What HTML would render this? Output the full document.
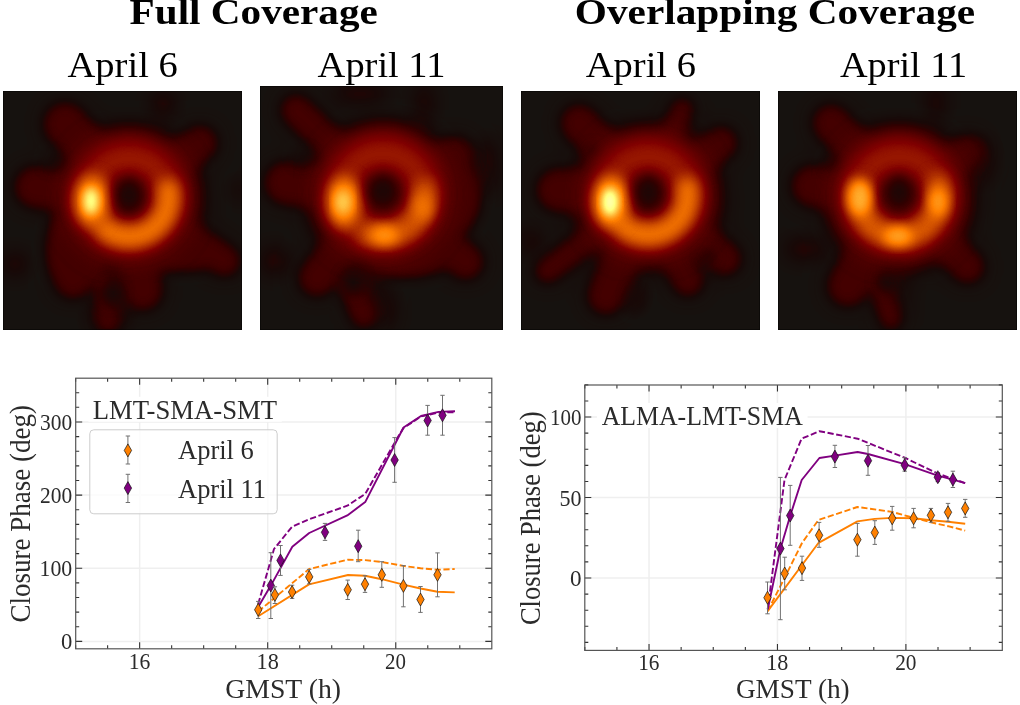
<!DOCTYPE html>
<html><head><meta charset="utf-8"><style>
html,body{margin:0;padding:0;background:#fff;overflow:hidden;}
svg{display:block;font-family:"Liberation Serif",serif;will-change:transform;}
</style></head><body>
<svg width="1020" height="705" viewBox="0 0 1020 705">
<defs>
<filter id="cmap" x="0" y="0" width="1" height="1" color-interpolation-filters="sRGB">
<feComponentTransfer><feFuncR type="table" tableValues="0.090 0.095 0.200 0.300 0.400 0.500 0.600 0.700 0.800 0.900 1.000 1.000 1.000 1.000 1.000 1.000 1.000 1.000 1.000 1.000 1.000"/><feFuncG type="table" tableValues="0.071 0.035 0.000 0.000 0.000 0.000 0.100 0.200 0.300 0.400 0.500 0.600 0.700 0.800 0.900 1.000 1.000 1.000 1.000 1.000 1.000"/><feFuncB type="table" tableValues="0.059 0.029 0.000 0.000 0.000 0.000 0.000 0.000 0.000 0.000 0.000 0.100 0.200 0.300 0.400 0.500 0.600 0.700 0.800 0.900 1.000"/></feComponentTransfer></filter>
<filter id="b2" x="-50%" y="-50%" width="200%" height="200%" color-interpolation-filters="sRGB"><feGaussianBlur stdDeviation="2"/></filter>
<filter id="b3" x="-50%" y="-50%" width="200%" height="200%" color-interpolation-filters="sRGB"><feGaussianBlur stdDeviation="3"/></filter>
<filter id="b4" x="-50%" y="-50%" width="200%" height="200%" color-interpolation-filters="sRGB"><feGaussianBlur stdDeviation="4"/></filter>
<filter id="b5" x="-50%" y="-50%" width="200%" height="200%" color-interpolation-filters="sRGB"><feGaussianBlur stdDeviation="5"/></filter>
<filter id="b6" x="-50%" y="-50%" width="200%" height="200%" color-interpolation-filters="sRGB"><feGaussianBlur stdDeviation="6"/></filter>
<filter id="b7" x="-50%" y="-50%" width="200%" height="200%" color-interpolation-filters="sRGB"><feGaussianBlur stdDeviation="7"/></filter>
<filter id="b8" x="-50%" y="-50%" width="200%" height="200%" color-interpolation-filters="sRGB"><feGaussianBlur stdDeviation="8"/></filter>
<filter id="b9" x="-50%" y="-50%" width="200%" height="200%" color-interpolation-filters="sRGB"><feGaussianBlur stdDeviation="9"/></filter>
<filter id="b10" x="-50%" y="-50%" width="200%" height="200%" color-interpolation-filters="sRGB"><feGaussianBlur stdDeviation="10"/></filter>
<filter id="b11" x="-50%" y="-50%" width="200%" height="200%" color-interpolation-filters="sRGB"><feGaussianBlur stdDeviation="11"/></filter>
<filter id="b12" x="-50%" y="-50%" width="200%" height="200%" color-interpolation-filters="sRGB"><feGaussianBlur stdDeviation="12"/></filter>
<filter id="b13" x="-50%" y="-50%" width="200%" height="200%" color-interpolation-filters="sRGB"><feGaussianBlur stdDeviation="13"/></filter>
<filter id="b14" x="-50%" y="-50%" width="200%" height="200%" color-interpolation-filters="sRGB"><feGaussianBlur stdDeviation="14"/></filter>
<filter id="b15" x="-50%" y="-50%" width="200%" height="200%" color-interpolation-filters="sRGB"><feGaussianBlur stdDeviation="15"/></filter>
<clipPath id="clip0"><rect x="3" y="91" width="239" height="239"/></clipPath>
<clipPath id="clip1"><rect x="260" y="86" width="243" height="244"/></clipPath>
<clipPath id="clip2"><rect x="521" y="91" width="239" height="239"/></clipPath>
<clipPath id="clip3"><rect x="778" y="91" width="239" height="239"/></clipPath>
</defs>
<text x="129.60" y="23.70" font-size="35" font-weight="bold" fill="#000" textLength="248.17" lengthAdjust="spacingAndGlyphs">Full Coverage</text>
<text x="574.78" y="23.70" font-size="35" font-weight="bold" fill="#000" textLength="400.39" lengthAdjust="spacingAndGlyphs">Overlapping Coverage</text>
<text x="67.52" y="76.60" font-size="36.5" font-weight="normal" fill="#000" textLength="110.22" lengthAdjust="spacingAndGlyphs">April 6</text>
<text x="317.63" y="76.60" font-size="36.5" font-weight="normal" fill="#000" textLength="127.75" lengthAdjust="spacingAndGlyphs">April 11</text>
<text x="585.82" y="76.60" font-size="36.5" font-weight="normal" fill="#000" textLength="110.12" lengthAdjust="spacingAndGlyphs">April 6</text>
<text x="839.93" y="76.80" font-size="36.5" font-weight="normal" fill="#000" textLength="127.14" lengthAdjust="spacingAndGlyphs">April 11</text>
<g clip-path="url(#clip0)"><g filter="url(#cmap)"><rect x="3" y="91" width="239" height="239" fill="#000"/>
<g filter="url(#b9)" fill="rgb(22,22,22)" stroke="none">
<ellipse cx="163.0" cy="105.0" rx="13.0" ry="15.0"/>
<ellipse cx="15.0" cy="264.0" rx="14.0" ry="12.0"/>
<ellipse cx="239.0" cy="190.0" rx="8.0" ry="10.0"/>
<ellipse cx="108.0" cy="316.0" rx="20.0" ry="14.0"/>
</g>
<g filter="url(#b12)" fill="rgb(26,26,26)" stroke="none">
<ellipse cx="129.0" cy="201.0" rx="74.0" ry="72.0"/>
<line x1="129.0" y1="197.0" x2="65.0" y2="124.0" stroke="rgb(26,26,26)" stroke-width="40.0" stroke-linecap="round"/>
<line x1="129.0" y1="197.0" x2="35.0" y2="187.0" stroke="rgb(26,26,26)" stroke-width="38.0" stroke-linecap="round"/>
<line x1="129.0" y1="197.0" x2="200.0" y2="143.0" stroke="rgb(26,26,26)" stroke-width="32.0" stroke-linecap="round"/>
<line x1="129.0" y1="197.0" x2="225.0" y2="261.0" stroke="rgb(26,26,26)" stroke-width="28.0" stroke-linecap="round"/>
<line x1="129.0" y1="197.0" x2="73.0" y2="279.0" stroke="rgb(26,26,26)" stroke-width="36.0" stroke-linecap="round"/>
<line x1="129.0" y1="197.0" x2="143.0" y2="291.0" stroke="rgb(26,26,26)" stroke-width="36.0" stroke-linecap="round"/>
<line x1="129.0" y1="197.0" x2="108.0" y2="323.0" stroke="rgb(26,26,26)" stroke-width="18.0" stroke-linecap="round"/>
</g>
<g filter="url(#b6)" fill="rgb(34,34,34)" stroke="none">
<ellipse cx="129.0" cy="201.0" rx="62.0" ry="60.0"/>
<line x1="129.0" y1="197.0" x2="65.0" y2="124.0" stroke="rgb(34,34,34)" stroke-width="40.0" stroke-linecap="round"/>
<line x1="129.0" y1="197.0" x2="35.0" y2="187.0" stroke="rgb(34,34,34)" stroke-width="38.0" stroke-linecap="round"/>
<line x1="129.0" y1="197.0" x2="200.0" y2="143.0" stroke="rgb(34,34,34)" stroke-width="32.0" stroke-linecap="round"/>
<line x1="129.0" y1="197.0" x2="225.0" y2="261.0" stroke="rgb(34,34,34)" stroke-width="28.0" stroke-linecap="round"/>
<line x1="129.0" y1="197.0" x2="73.0" y2="279.0" stroke="rgb(34,34,34)" stroke-width="36.0" stroke-linecap="round"/>
<line x1="129.0" y1="197.0" x2="143.0" y2="291.0" stroke="rgb(34,34,34)" stroke-width="36.0" stroke-linecap="round"/>
<line x1="103.0" y1="281.0" x2="108.0" y2="323.0" stroke="rgb(34,34,34)" stroke-width="18.0" stroke-linecap="round"/>
<ellipse cx="69.0" cy="249.0" rx="24.0" ry="40.0"/>
<ellipse cx="181.0" cy="254.0" rx="40.0" ry="18.0"/>
</g>
<g filter="url(#b6)" fill="rgb(13,13,13)" stroke="none">
<ellipse cx="112.0" cy="294.0" rx="10.0" ry="11.0"/>
<ellipse cx="54.0" cy="162.0" rx="8.0" ry="8.0"/>
</g>
<g filter="url(#b10)" fill="rgb(51,51,51)" stroke="none">
<circle cx="129.0" cy="197.0" r="43.0" fill="none" stroke="rgb(51,51,51)" stroke-width="50.0"/>
</g>
<g filter="url(#b8)" fill="rgb(76,76,76)" stroke="none">
<circle cx="129.0" cy="197.0" r="39.0" fill="none" stroke="rgb(76,76,76)" stroke-width="30.0"/>
</g>
<g filter="url(#b7)" fill="rgb(122,122,122)" stroke="none">
<path d="M168.4,190.1 A40.0,40.0 0 0 1 106.1,229.8" fill="none" stroke="rgb(122,122,122)" stroke-width="22.0" stroke-linecap="round"/>
</g>
<g filter="url(#b7)" fill="rgb(128,128,128)" stroke="none">
<ellipse cx="92.0" cy="201.0" rx="18.0" ry="26.0"/>
</g>
<g filter="url(#b5)" fill="rgb(204,204,204)" stroke="none">
<ellipse cx="91.0" cy="201.0" rx="7.0" ry="13.0"/>
</g>
<g filter="url(#b7)" fill="rgb(15,15,15)" stroke="none">
<ellipse cx="129.0" cy="195.0" rx="13.0" ry="17.0"/>
</g>
</g>
<rect x="3.3" y="91.3" width="238.4" height="238.4" fill="none" stroke="#000" stroke-width="0.8" opacity="0.6"/>
</g>
<g clip-path="url(#clip1)"><g filter="url(#cmap)"><rect x="260" y="86" width="243" height="244" fill="#000"/>
<g filter="url(#b9)" fill="rgb(22,22,22)" stroke="none">
<ellipse cx="424.0" cy="106.0" rx="9.0" ry="24.0"/>
<ellipse cx="275.0" cy="261.0" rx="15.0" ry="15.0"/>
<ellipse cx="388.0" cy="311.0" rx="8.0" ry="20.0"/>
<ellipse cx="488.0" cy="166.0" rx="10.0" ry="30.0"/>
<ellipse cx="360.0" cy="94.0" rx="30.0" ry="10.0"/>
</g>
<g filter="url(#b12)" fill="rgb(26,26,26)" stroke="none">
<ellipse cx="383.0" cy="198.0" rx="76.0" ry="72.0"/>
<line x1="383.0" y1="194.0" x2="296.0" y2="110.0" stroke="rgb(26,26,26)" stroke-width="28.0" stroke-linecap="round"/>
<line x1="383.0" y1="194.0" x2="286.0" y2="183.0" stroke="rgb(26,26,26)" stroke-width="40.0" stroke-linecap="round"/>
<line x1="383.0" y1="194.0" x2="455.0" y2="156.0" stroke="rgb(26,26,26)" stroke-width="36.0" stroke-linecap="round"/>
<line x1="383.0" y1="194.0" x2="317.0" y2="278.0" stroke="rgb(26,26,26)" stroke-width="34.0" stroke-linecap="round"/>
<line x1="383.0" y1="194.0" x2="364.0" y2="315.0" stroke="rgb(26,26,26)" stroke-width="24.0" stroke-linecap="round"/>
<line x1="383.0" y1="194.0" x2="466.0" y2="262.0" stroke="rgb(26,26,26)" stroke-width="32.0" stroke-linecap="round"/>
</g>
<g filter="url(#b6)" fill="rgb(34,34,34)" stroke="none">
<ellipse cx="383.0" cy="198.0" rx="64.0" ry="60.0"/>
<line x1="383.0" y1="194.0" x2="296.0" y2="110.0" stroke="rgb(34,34,34)" stroke-width="28.0" stroke-linecap="round"/>
<line x1="383.0" y1="194.0" x2="286.0" y2="183.0" stroke="rgb(34,34,34)" stroke-width="40.0" stroke-linecap="round"/>
<line x1="383.0" y1="194.0" x2="455.0" y2="156.0" stroke="rgb(34,34,34)" stroke-width="36.0" stroke-linecap="round"/>
<line x1="383.0" y1="194.0" x2="317.0" y2="278.0" stroke="rgb(34,34,34)" stroke-width="34.0" stroke-linecap="round"/>
<line x1="350.0" y1="286.0" x2="364.0" y2="315.0" stroke="rgb(34,34,34)" stroke-width="24.0" stroke-linecap="round"/>
<line x1="383.0" y1="194.0" x2="466.0" y2="262.0" stroke="rgb(34,34,34)" stroke-width="32.0" stroke-linecap="round"/>
<ellipse cx="448.0" cy="196.0" rx="34.0" ry="44.0"/>
<ellipse cx="410.0" cy="258.0" rx="40.0" ry="20.0"/>
</g>
<g filter="url(#b6)" fill="rgb(13,13,13)" stroke="none">
<ellipse cx="353.0" cy="283.0" rx="11.0" ry="12.0"/>
<ellipse cx="303.0" cy="158.0" rx="8.0" ry="8.0"/>
</g>
<g filter="url(#b10)" fill="rgb(51,51,51)" stroke="none">
<circle cx="383.0" cy="194.0" r="45.0" fill="none" stroke="rgb(51,51,51)" stroke-width="50.0"/>
</g>
<g filter="url(#b8)" fill="rgb(76,76,76)" stroke="none">
<circle cx="383.0" cy="194.0" r="41.0" fill="none" stroke="rgb(76,76,76)" stroke-width="30.0"/>
</g>
<g filter="url(#b7)" fill="rgb(107,107,107)" stroke="none">
<path d="M424.8,190.3 A42.0,42.0 0 0 1 368.6,233.5" fill="none" stroke="rgb(107,107,107)" stroke-width="22.0" stroke-linecap="round"/>
</g>
<g filter="url(#b6)" fill="rgb(138,138,138)" stroke="none">
<ellipse cx="384.6" cy="235.0" rx="14.0" ry="9.0"/>
</g>
<g filter="url(#b6)" fill="rgb(122,122,122)" stroke="none">
<ellipse cx="422.7" cy="207.0" rx="9.0" ry="13.0"/>
</g>
<g filter="url(#b7)" fill="rgb(128,128,128)" stroke="none">
<ellipse cx="344.0" cy="202.0" rx="17.0" ry="26.0"/>
</g>
<g filter="url(#b6)" fill="rgb(178,178,178)" stroke="none">
<ellipse cx="343.0" cy="202.0" rx="7.0" ry="12.0"/>
</g>
<g filter="url(#b7)" fill="rgb(15,15,15)" stroke="none">
<ellipse cx="383.0" cy="191.0" rx="14.0" ry="16.0"/>
</g>
</g>
<rect x="260.3" y="86.3" width="242.4" height="243.4" fill="none" stroke="#000" stroke-width="0.8" opacity="0.6"/>
</g>
<g clip-path="url(#clip2)"><g filter="url(#cmap)"><rect x="521" y="91" width="239" height="239" fill="#000"/>
<g filter="url(#b9)" fill="rgb(22,22,22)" stroke="none">
<ellipse cx="634.0" cy="296.0" rx="10.0" ry="15.0"/>
<ellipse cx="531.0" cy="241.0" rx="10.0" ry="15.0"/>
</g>
<g filter="url(#b12)" fill="rgb(26,26,26)" stroke="none">
<ellipse cx="648.0" cy="201.0" rx="74.0" ry="70.0"/>
<line x1="648.0" y1="195.0" x2="579.0" y2="123.0" stroke="rgb(26,26,26)" stroke-width="34.0" stroke-linecap="round"/>
<line x1="648.0" y1="195.0" x2="558.0" y2="190.0" stroke="rgb(26,26,26)" stroke-width="40.0" stroke-linecap="round"/>
<line x1="648.0" y1="195.0" x2="682.5" y2="109.0" stroke="rgb(26,26,26)" stroke-width="20.0" stroke-linecap="round"/>
<line x1="648.0" y1="195.0" x2="721.0" y2="143.0" stroke="rgb(26,26,26)" stroke-width="30.0" stroke-linecap="round"/>
<line x1="648.0" y1="195.0" x2="547.0" y2="271.0" stroke="rgb(26,26,26)" stroke-width="22.0" stroke-linecap="round"/>
<line x1="648.0" y1="195.0" x2="606.0" y2="296.0" stroke="rgb(26,26,26)" stroke-width="34.0" stroke-linecap="round"/>
<line x1="648.0" y1="195.0" x2="725.0" y2="259.0" stroke="rgb(26,26,26)" stroke-width="30.0" stroke-linecap="round"/>
<line x1="648.0" y1="195.0" x2="688.0" y2="281.0" stroke="rgb(26,26,26)" stroke-width="28.0" stroke-linecap="round"/>
</g>
<g filter="url(#b6)" fill="rgb(34,34,34)" stroke="none">
<ellipse cx="648.0" cy="201.0" rx="62.0" ry="58.0"/>
<line x1="648.0" y1="195.0" x2="579.0" y2="123.0" stroke="rgb(34,34,34)" stroke-width="34.0" stroke-linecap="round"/>
<line x1="648.0" y1="195.0" x2="558.0" y2="190.0" stroke="rgb(34,34,34)" stroke-width="40.0" stroke-linecap="round"/>
<line x1="648.0" y1="195.0" x2="682.5" y2="109.0" stroke="rgb(34,34,34)" stroke-width="20.0" stroke-linecap="round"/>
<line x1="648.0" y1="195.0" x2="721.0" y2="143.0" stroke="rgb(34,34,34)" stroke-width="30.0" stroke-linecap="round"/>
<line x1="648.0" y1="195.0" x2="547.0" y2="271.0" stroke="rgb(34,34,34)" stroke-width="22.0" stroke-linecap="round"/>
<line x1="648.0" y1="195.0" x2="606.0" y2="296.0" stroke="rgb(34,34,34)" stroke-width="34.0" stroke-linecap="round"/>
<line x1="648.0" y1="195.0" x2="725.0" y2="259.0" stroke="rgb(34,34,34)" stroke-width="30.0" stroke-linecap="round"/>
<line x1="648.0" y1="195.0" x2="688.0" y2="281.0" stroke="rgb(34,34,34)" stroke-width="28.0" stroke-linecap="round"/>
</g>
<g filter="url(#b6)" fill="rgb(13,13,13)" stroke="none">
<ellipse cx="594.0" cy="153.0" rx="7.0" ry="7.0"/>
<ellipse cx="708.0" cy="256.0" rx="6.0" ry="6.0"/>
<ellipse cx="636.0" cy="299.0" rx="8.0" ry="12.0"/>
</g>
<g filter="url(#b10)" fill="rgb(51,51,51)" stroke="none">
<circle cx="648.0" cy="195.0" r="43.0" fill="none" stroke="rgb(51,51,51)" stroke-width="50.0"/>
</g>
<g filter="url(#b8)" fill="rgb(76,76,76)" stroke="none">
<circle cx="648.0" cy="195.0" r="39.0" fill="none" stroke="rgb(76,76,76)" stroke-width="30.0"/>
</g>
<g filter="url(#b7)" fill="rgb(122,122,122)" stroke="none">
<path d="M687.4,188.1 A40.0,40.0 0 0 1 625.1,227.8" fill="none" stroke="rgb(122,122,122)" stroke-width="22.0" stroke-linecap="round"/>
</g>
<g filter="url(#b7)" fill="rgb(138,138,138)" stroke="none">
<ellipse cx="611.0" cy="202.0" rx="18.0" ry="26.0"/>
</g>
<g filter="url(#b5)" fill="rgb(224,224,224)" stroke="none">
<ellipse cx="610.0" cy="202.0" rx="7.0" ry="13.0"/>
</g>
<g filter="url(#b7)" fill="rgb(15,15,15)" stroke="none">
<ellipse cx="648.5" cy="192.0" rx="13.0" ry="17.0"/>
</g>
</g>
<rect x="521.3" y="91.3" width="238.4" height="238.4" fill="none" stroke="#000" stroke-width="0.8" opacity="0.6"/>
</g>
<g clip-path="url(#clip3)"><g filter="url(#cmap)"><rect x="778" y="91" width="239" height="239" fill="#000"/>
<g filter="url(#b9)" fill="rgb(22,22,22)" stroke="none">
<ellipse cx="936.0" cy="103.0" rx="9.0" ry="22.0"/>
<ellipse cx="983.0" cy="161.0" rx="10.0" ry="25.0"/>
<ellipse cx="806.0" cy="249.0" rx="22.0" ry="12.0"/>
</g>
<g filter="url(#b12)" fill="rgb(26,26,26)" stroke="none">
<ellipse cx="899.0" cy="201.0" rx="74.0" ry="70.0"/>
<line x1="899.0" y1="196.0" x2="831.0" y2="123.0" stroke="rgb(26,26,26)" stroke-width="34.0" stroke-linecap="round"/>
<line x1="899.0" y1="196.0" x2="812.0" y2="186.0" stroke="rgb(26,26,26)" stroke-width="38.0" stroke-linecap="round"/>
<line x1="899.0" y1="196.0" x2="968.0" y2="151.0" stroke="rgb(26,26,26)" stroke-width="30.0" stroke-linecap="round"/>
<line x1="899.0" y1="196.0" x2="848.0" y2="286.0" stroke="rgb(26,26,26)" stroke-width="38.0" stroke-linecap="round"/>
<line x1="899.0" y1="196.0" x2="891.0" y2="319.0" stroke="rgb(26,26,26)" stroke-width="20.0" stroke-linecap="round"/>
<line x1="899.0" y1="196.0" x2="968.0" y2="267.0" stroke="rgb(26,26,26)" stroke-width="30.0" stroke-linecap="round"/>
</g>
<g filter="url(#b6)" fill="rgb(34,34,34)" stroke="none">
<ellipse cx="899.0" cy="201.0" rx="62.0" ry="58.0"/>
<line x1="899.0" y1="196.0" x2="831.0" y2="123.0" stroke="rgb(34,34,34)" stroke-width="34.0" stroke-linecap="round"/>
<line x1="899.0" y1="196.0" x2="812.0" y2="186.0" stroke="rgb(34,34,34)" stroke-width="38.0" stroke-linecap="round"/>
<line x1="899.0" y1="196.0" x2="968.0" y2="151.0" stroke="rgb(34,34,34)" stroke-width="30.0" stroke-linecap="round"/>
<line x1="899.0" y1="196.0" x2="848.0" y2="286.0" stroke="rgb(34,34,34)" stroke-width="38.0" stroke-linecap="round"/>
<line x1="878.0" y1="281.0" x2="891.0" y2="319.0" stroke="rgb(34,34,34)" stroke-width="20.0" stroke-linecap="round"/>
<line x1="899.0" y1="196.0" x2="968.0" y2="267.0" stroke="rgb(34,34,34)" stroke-width="30.0" stroke-linecap="round"/>
</g>
<g filter="url(#b6)" fill="rgb(13,13,13)" stroke="none">
<ellipse cx="834.0" cy="163.0" rx="7.0" ry="7.0"/>
<ellipse cx="887.0" cy="282.0" rx="10.0" ry="10.0"/>
</g>
<g filter="url(#b10)" fill="rgb(51,51,51)" stroke="none">
<circle cx="899.0" cy="196.0" r="44.0" fill="none" stroke="rgb(51,51,51)" stroke-width="50.0"/>
</g>
<g filter="url(#b8)" fill="rgb(76,76,76)" stroke="none">
<circle cx="899.0" cy="196.0" r="40.0" fill="none" stroke="rgb(76,76,76)" stroke-width="30.0"/>
</g>
<g filter="url(#b7)" fill="rgb(110,110,110)" stroke="none">
<path d="M938.6,185.4 A41.0,41.0 0 1 1 858.6,188.9" fill="none" stroke="rgb(110,110,110)" stroke-width="22.0" stroke-linecap="round"/>
</g>
<g filter="url(#b6)" fill="rgb(148,148,148)" stroke="none">
<ellipse cx="898.0" cy="236.0" rx="14.0" ry="9.0"/>
</g>
<g filter="url(#b6)" fill="rgb(143,143,143)" stroke="none">
<ellipse cx="938.0" cy="202.0" rx="9.0" ry="14.0"/>
</g>
<g filter="url(#b6)" fill="rgb(153,153,153)" stroke="none">
<ellipse cx="860.0" cy="198.0" rx="11.0" ry="17.0"/>
</g>
<g filter="url(#b7)" fill="rgb(15,15,15)" stroke="none">
<ellipse cx="899.0" cy="192.0" rx="13.0" ry="16.0"/>
</g>
</g>
<rect x="778.3" y="91.3" width="238.4" height="238.4" fill="none" stroke="#000" stroke-width="0.8" opacity="0.6"/>
</g>
<path d="M139.64,378.2V648.8M267.70,378.2V648.8M395.76,378.2V648.8M75.7,641.40H491.8M75.7,568.25H491.8M75.7,495.10H491.8M75.7,421.95H491.8" stroke="#efefef" stroke-width="1.5" fill="none"/>
<path d="M75.61,648.8v-3.5M75.61,378.2v3.5M107.62,648.8v-3.5M107.62,378.2v3.5M139.64,648.8v-6.5M139.64,378.2v6.5M171.66,648.8v-3.5M171.66,378.2v3.5M203.67,648.8v-3.5M203.67,378.2v3.5M235.69,648.8v-3.5M235.69,378.2v3.5M267.70,648.8v-6.5M267.70,378.2v6.5M299.72,648.8v-3.5M299.72,378.2v3.5M331.73,648.8v-3.5M331.73,378.2v3.5M363.75,648.8v-3.5M363.75,378.2v3.5M395.76,648.8v-6.5M395.76,378.2v6.5M427.77,648.8v-3.5M427.77,378.2v3.5M459.79,648.8v-3.5M459.79,378.2v3.5M75.7,641.40h6.5M491.8,641.40h-6.5M75.7,626.77h3.5M491.8,626.77h-3.5M75.7,612.14h3.5M491.8,612.14h-3.5M75.7,597.51h3.5M491.8,597.51h-3.5M75.7,582.88h3.5M491.8,582.88h-3.5M75.7,568.25h6.5M491.8,568.25h-6.5M75.7,553.62h3.5M491.8,553.62h-3.5M75.7,538.99h3.5M491.8,538.99h-3.5M75.7,524.36h3.5M491.8,524.36h-3.5M75.7,509.73h3.5M491.8,509.73h-3.5M75.7,495.10h6.5M491.8,495.10h-6.5M75.7,480.47h3.5M491.8,480.47h-3.5M75.7,465.84h3.5M491.8,465.84h-3.5M75.7,451.21h3.5M491.8,451.21h-3.5M75.7,436.58h3.5M491.8,436.58h-3.5M75.7,421.95h6.5M491.8,421.95h-6.5M75.7,407.32h3.5M491.8,407.32h-3.5M75.7,392.69h3.5M491.8,392.69h-3.5" stroke="#333333" stroke-width="1.1" fill="none"/>
<rect x="88.5" y="396.8" width="193.2" height="25.0" fill="#fff"/>
<text x="92.74" y="418.80" font-size="28" font-weight="normal" fill="#2b2b2b" textLength="184.40" lengthAdjust="spacingAndGlyphs">LMT-SMA-SMT</text>
<rect x="89.8" y="429.8" width="187.4" height="84.0" rx="4" ry="4" fill="#fff" fill-opacity="0.8" stroke="#cccccc" stroke-width="1"/>
<path d="M127.90,436.00 V464.00 M125.70,436.00 H130.10 M125.70,464.00 H130.10" stroke="#707070" stroke-width="1" fill="none"/>
<path d="M127.90,443.90 L131.60,450.40 L127.90,456.90 L124.20,450.40 Z" fill="#ff8000" stroke="#111" stroke-width="0.7" stroke-linejoin="miter"/>
<text x="178.04" y="459.30" font-size="27.5" font-weight="normal" fill="#2b2b2b" textLength="75.75" lengthAdjust="spacingAndGlyphs">April 6</text>
<path d="M127.90,474.30 V502.50 M125.70,474.30 H130.10 M125.70,502.50 H130.10" stroke="#707070" stroke-width="1" fill="none"/>
<path d="M127.90,481.60 L131.60,488.10 L127.90,494.60 L124.20,488.10 Z" fill="#800080" stroke="#111" stroke-width="0.7" stroke-linejoin="miter"/>
<text x="178.04" y="497.80" font-size="27.5" font-weight="normal" fill="#2b2b2b" textLength="87.93" lengthAdjust="spacingAndGlyphs">April 11</text>
<text x="60.94" y="649.40" font-size="22.8" font-weight="normal" fill="#2b2b2b" textLength="11.33" lengthAdjust="spacingAndGlyphs">0</text>
<text x="39.48" y="576.30" font-size="22.8" font-weight="normal" fill="#2b2b2b" textLength="32.75" lengthAdjust="spacingAndGlyphs">100</text>
<text x="40.06" y="503.20" font-size="22.8" font-weight="normal" fill="#2b2b2b" textLength="32.16" lengthAdjust="spacingAndGlyphs">200</text>
<text x="40.07" y="430.10" font-size="22.8" font-weight="normal" fill="#2b2b2b" textLength="32.14" lengthAdjust="spacingAndGlyphs">300</text>
<text x="128.80" y="668.70" font-size="22.8" font-weight="normal" fill="#2b2b2b" textLength="21.65" lengthAdjust="spacingAndGlyphs">16</text>
<text x="256.55" y="668.70" font-size="22.8" font-weight="normal" fill="#2b2b2b" textLength="22.20" lengthAdjust="spacingAndGlyphs">18</text>
<text x="385.08" y="668.70" font-size="22.8" font-weight="normal" fill="#2b2b2b" textLength="20.92" lengthAdjust="spacingAndGlyphs">20</text>
<text x="225.27" y="698.00" font-size="28" font-weight="normal" fill="#2b2b2b" textLength="115.74" lengthAdjust="spacingAndGlyphs">GMST (h)</text>
<text transform="translate(29.60,621.50) rotate(-90)" x="-1.11" y="0" font-size="29" fill="#2b2b2b" textLength="217.49" lengthAdjust="spacingAndGlyphs">Closure Phase (deg)</text>
<polyline points="258.2,616.2 309.0,584.4 348.0,575.0 365.0,575.7 381.8,579.2 403.4,584.6 420.5,588.5 437.5,591.7 454.7,592.4" fill="none" stroke="#ff8000" stroke-width="1.9" stroke-linejoin="round"/>
<polyline points="258.2,611.5 309.2,569.0 347.8,559.7 365.0,560.1 381.8,562.0 403.4,565.9 420.5,568.2 437.5,569.8 454.7,569.0" fill="none" stroke="#ff8000" stroke-width="1.9" stroke-linejoin="round" stroke-dasharray="6.2,2.6"/>
<polyline points="258.2,606.9 270.8,585.6 292.3,546.8 309.2,533.0 347.3,515.4 365.2,502.1 403.5,427.5 421.0,416.0 438.5,411.9 455.0,411.2" fill="none" stroke="#800080" stroke-width="1.9" stroke-linejoin="round"/>
<polyline points="258.2,604.0 274.0,549.0 292.2,526.6 309.0,519.3 347.3,505.7 365.2,494.0 397.6,437.6 403.5,428.0 421.0,416.5 438.5,412.6 455.0,412.2" fill="none" stroke="#800080" stroke-width="1.9" stroke-linejoin="round" stroke-dasharray="6.2,2.6"/>
<path d="M270.80,552.70 V618.50 M268.60,552.70 H273.00 M268.60,618.50 H273.00" stroke="#707070" stroke-width="1" fill="none"/>
<path d="M280.50,545.50 V575.40 M278.30,545.50 H282.70 M278.30,575.40 H282.70" stroke="#707070" stroke-width="1" fill="none"/>
<path d="M325.00,523.40 V540.40 M322.80,523.40 H327.20 M322.80,540.40 H327.20" stroke="#707070" stroke-width="1" fill="none"/>
<path d="M358.20,530.20 V561.70 M356.00,530.20 H360.40 M356.00,561.70 H360.40" stroke="#707070" stroke-width="1" fill="none"/>
<path d="M394.60,437.60 V482.30 M392.40,437.60 H396.80 M392.40,482.30 H396.80" stroke="#707070" stroke-width="1" fill="none"/>
<path d="M427.60,405.40 V435.20 M425.40,405.40 H429.80 M425.40,435.20 H429.80" stroke="#707070" stroke-width="1" fill="none"/>
<path d="M442.50,395.30 V435.20 M440.30,395.30 H444.70 M440.30,435.20 H444.70" stroke="#707070" stroke-width="1" fill="none"/>
<path d="M270.80,579.10 L274.50,585.60 L270.80,592.10 L267.10,585.60 Z" fill="#800080" stroke="#111" stroke-width="0.7" stroke-linejoin="miter"/>
<path d="M280.50,553.90 L284.20,560.40 L280.50,566.90 L276.80,560.40 Z" fill="#800080" stroke="#111" stroke-width="0.7" stroke-linejoin="miter"/>
<path d="M325.00,525.80 L328.70,532.30 L325.00,538.80 L321.30,532.30 Z" fill="#800080" stroke="#111" stroke-width="0.7" stroke-linejoin="miter"/>
<path d="M358.20,539.70 L361.90,546.20 L358.20,552.70 L354.50,546.20 Z" fill="#800080" stroke="#111" stroke-width="0.7" stroke-linejoin="miter"/>
<path d="M394.60,453.50 L398.30,460.00 L394.60,466.50 L390.90,460.00 Z" fill="#800080" stroke="#111" stroke-width="0.7" stroke-linejoin="miter"/>
<path d="M427.60,414.00 L431.30,420.50 L427.60,427.00 L423.90,420.50 Z" fill="#800080" stroke="#111" stroke-width="0.7" stroke-linejoin="miter"/>
<path d="M442.50,408.80 L446.20,415.30 L442.50,421.80 L438.80,415.30 Z" fill="#800080" stroke="#111" stroke-width="0.7" stroke-linejoin="miter"/>
<path d="M258.20,601.40 V618.50 M256.00,601.40 H260.40 M256.00,618.50 H260.40" stroke="#707070" stroke-width="1" fill="none"/>
<path d="M274.90,586.80 V603.50 M272.70,586.80 H277.10 M272.70,603.50 H277.10" stroke="#707070" stroke-width="1" fill="none"/>
<path d="M292.10,585.20 V598.40 M289.90,585.20 H294.30 M289.90,598.40 H294.30" stroke="#707070" stroke-width="1" fill="none"/>
<path d="M309.20,569.40 V583.90 M307.00,569.40 H311.40 M307.00,583.90 H311.40" stroke="#707070" stroke-width="1" fill="none"/>
<path d="M347.70,580.10 V599.50 M345.50,580.10 H349.90 M345.50,599.50 H349.90" stroke="#707070" stroke-width="1" fill="none"/>
<path d="M365.00,575.70 V592.40 M362.80,575.70 H367.20 M362.80,592.40 H367.20" stroke="#707070" stroke-width="1" fill="none"/>
<path d="M381.80,561.70 V587.30 M379.60,561.70 H384.00 M379.60,587.30 H384.00" stroke="#707070" stroke-width="1" fill="none"/>
<path d="M403.40,565.60 V606.80 M401.20,565.60 H405.60 M401.20,606.80 H405.60" stroke="#707070" stroke-width="1" fill="none"/>
<path d="M420.50,586.50 V612.40 M418.30,586.50 H422.70 M418.30,612.40 H422.70" stroke="#707070" stroke-width="1" fill="none"/>
<path d="M437.50,552.90 V596.80 M435.30,552.90 H439.70 M435.30,596.80 H439.70" stroke="#707070" stroke-width="1" fill="none"/>
<path d="M258.20,603.30 L261.90,609.80 L258.20,616.30 L254.50,609.80 Z" fill="#ff8000" stroke="#111" stroke-width="0.7" stroke-linejoin="miter"/>
<path d="M274.90,588.40 L278.60,594.90 L274.90,601.40 L271.20,594.90 Z" fill="#ff8000" stroke="#111" stroke-width="0.7" stroke-linejoin="miter"/>
<path d="M292.10,585.50 L295.80,592.00 L292.10,598.50 L288.40,592.00 Z" fill="#ff8000" stroke="#111" stroke-width="0.7" stroke-linejoin="miter"/>
<path d="M309.20,570.40 L312.90,576.90 L309.20,583.40 L305.50,576.90 Z" fill="#ff8000" stroke="#111" stroke-width="0.7" stroke-linejoin="miter"/>
<path d="M347.70,583.30 L351.40,589.80 L347.70,596.30 L344.00,589.80 Z" fill="#ff8000" stroke="#111" stroke-width="0.7" stroke-linejoin="miter"/>
<path d="M365.00,577.70 L368.70,584.20 L365.00,590.70 L361.30,584.20 Z" fill="#ff8000" stroke="#111" stroke-width="0.7" stroke-linejoin="miter"/>
<path d="M381.80,568.30 L385.50,574.80 L381.80,581.30 L378.10,574.80 Z" fill="#ff8000" stroke="#111" stroke-width="0.7" stroke-linejoin="miter"/>
<path d="M403.40,579.40 L407.10,585.90 L403.40,592.40 L399.70,585.90 Z" fill="#ff8000" stroke="#111" stroke-width="0.7" stroke-linejoin="miter"/>
<path d="M420.50,593.00 L424.20,599.50 L420.50,606.00 L416.80,599.50 Z" fill="#ff8000" stroke="#111" stroke-width="0.7" stroke-linejoin="miter"/>
<path d="M437.50,568.30 L441.20,574.80 L437.50,581.30 L433.80,574.80 Z" fill="#ff8000" stroke="#111" stroke-width="0.7" stroke-linejoin="miter"/>
<rect x="75.70" y="378.20" width="416.10" height="270.60" fill="none" stroke="#555555" stroke-width="1.2"/>
<path d="M649.03,385.0V650.4M777.46,385.0V650.4M905.90,385.0V650.4M584.8,578.00H1002.3M584.8,497.53H1002.3M584.8,417.06H1002.3" stroke="#efefef" stroke-width="1.5" fill="none"/>
<path d="M584.81,650.4v-3.5M584.81,385.0v3.5M616.92,650.4v-3.5M616.92,385.0v3.5M649.03,650.4v-6.5M649.03,385.0v6.5M681.14,650.4v-3.5M681.14,385.0v3.5M713.25,650.4v-3.5M713.25,385.0v3.5M745.36,650.4v-3.5M745.36,385.0v3.5M777.46,650.4v-6.5M777.46,385.0v6.5M809.57,650.4v-3.5M809.57,385.0v3.5M841.68,650.4v-3.5M841.68,385.0v3.5M873.79,650.4v-3.5M873.79,385.0v3.5M905.90,650.4v-6.5M905.90,385.0v6.5M938.01,650.4v-3.5M938.01,385.0v3.5M970.12,650.4v-3.5M970.12,385.0v3.5M584.8,642.38h3.5M1002.3,642.38h-3.5M584.8,626.28h3.5M1002.3,626.28h-3.5M584.8,610.19h3.5M1002.3,610.19h-3.5M584.8,594.09h3.5M1002.3,594.09h-3.5M584.8,578.00h6.5M1002.3,578.00h-6.5M584.8,561.91h3.5M1002.3,561.91h-3.5M584.8,545.81h3.5M1002.3,545.81h-3.5M584.8,529.72h3.5M1002.3,529.72h-3.5M584.8,513.62h3.5M1002.3,513.62h-3.5M584.8,497.53h6.5M1002.3,497.53h-6.5M584.8,481.44h3.5M1002.3,481.44h-3.5M584.8,465.34h3.5M1002.3,465.34h-3.5M584.8,449.25h3.5M1002.3,449.25h-3.5M584.8,433.15h3.5M1002.3,433.15h-3.5M584.8,417.06h6.5M1002.3,417.06h-6.5M584.8,400.97h3.5M1002.3,400.97h-3.5M584.8,384.87h3.5M1002.3,384.87h-3.5" stroke="#333333" stroke-width="1.1" fill="none"/>
<rect x="596.9" y="403.0" width="210.7" height="25.0" fill="#fff"/>
<text x="601.65" y="425.00" font-size="28" font-weight="normal" fill="#2b2b2b" textLength="201.14" lengthAdjust="spacingAndGlyphs">ALMA-LMT-SMA</text>
<text x="569.92" y="586.00" font-size="22.8" font-weight="normal" fill="#2b2b2b" textLength="11.56" lengthAdjust="spacingAndGlyphs">0</text>
<text x="559.42" y="505.50" font-size="22.8" font-weight="normal" fill="#2b2b2b" textLength="22.02" lengthAdjust="spacingAndGlyphs">50</text>
<text x="549.90" y="425.10" font-size="22.8" font-weight="normal" fill="#2b2b2b" textLength="31.50" lengthAdjust="spacingAndGlyphs">100</text>
<text x="638.13" y="670.20" font-size="22.8" font-weight="normal" fill="#2b2b2b" textLength="21.31" lengthAdjust="spacingAndGlyphs">16</text>
<text x="766.26" y="670.20" font-size="22.8" font-weight="normal" fill="#2b2b2b" textLength="22.08" lengthAdjust="spacingAndGlyphs">18</text>
<text x="895.16" y="670.20" font-size="22.8" font-weight="normal" fill="#2b2b2b" textLength="21.35" lengthAdjust="spacingAndGlyphs">20</text>
<text x="735.89" y="698.30" font-size="28" font-weight="normal" fill="#2b2b2b" textLength="113.81" lengthAdjust="spacingAndGlyphs">GMST (h)</text>
<text transform="translate(539.60,624.00) rotate(-90)" x="-1.09" y="0" font-size="29" fill="#2b2b2b" textLength="213.65" lengthAdjust="spacingAndGlyphs">Closure Phase (deg)</text>
<polyline points="767.7,611.1 818.6,542.8 857.4,521.4 874.7,518.9 892.2,517.9 913.6,518.3 930.9,520.3 948.0,521.7 965.2,523.7" fill="none" stroke="#ff8000" stroke-width="1.9" stroke-linejoin="round"/>
<polyline points="767.7,611.1 784.5,578.0 802.0,543.0 818.5,519.9 857.4,507.0 892.2,511.9 913.6,517.9 930.9,522.3 948.0,526.2 965.2,530.6" fill="none" stroke="#ff8000" stroke-width="1.9" stroke-linejoin="round" stroke-dasharray="6.2,2.6"/>
<polyline points="767.7,609.5 780.4,549.0 790.2,515.8 801.7,480.0 819.4,458.0 834.9,455.6 857.6,452.0 868.0,454.0 904.7,464.1 937.8,475.6 952.9,479.6 965.2,483.1" fill="none" stroke="#800080" stroke-width="1.9" stroke-linejoin="round"/>
<polyline points="767.7,609.0 784.5,480.0 801.6,438.7 819.4,431.2 857.6,438.7 904.7,457.7 937.8,473.6 965.2,483.1" fill="none" stroke="#800080" stroke-width="1.9" stroke-linejoin="round" stroke-dasharray="6.2,2.6"/>
<path d="M780.40,477.40 V619.70 M778.20,477.40 H782.60 M778.20,619.70 H782.60" stroke="#707070" stroke-width="1" fill="none"/>
<path d="M790.20,485.40 V545.30 M788.00,485.40 H792.40 M788.00,545.30 H792.40" stroke="#707070" stroke-width="1" fill="none"/>
<path d="M834.90,445.30 V467.50 M832.70,445.30 H837.10 M832.70,467.50 H837.10" stroke="#707070" stroke-width="1" fill="none"/>
<path d="M868.00,445.50 V475.30 M865.80,445.50 H870.20 M865.80,475.30 H870.20" stroke="#707070" stroke-width="1" fill="none"/>
<path d="M904.70,457.70 V471.20 M902.50,457.70 H906.90 M902.50,471.20 H906.90" stroke="#707070" stroke-width="1" fill="none"/>
<path d="M937.80,472.60 V481.60 M935.60,472.60 H940.00 M935.60,481.60 H940.00" stroke="#707070" stroke-width="1" fill="none"/>
<path d="M952.90,471.20 V487.50 M950.70,471.20 H955.10 M950.70,487.50 H955.10" stroke="#707070" stroke-width="1" fill="none"/>
<path d="M780.40,542.10 L784.10,548.60 L780.40,555.10 L776.70,548.60 Z" fill="#800080" stroke="#111" stroke-width="0.7" stroke-linejoin="miter"/>
<path d="M790.20,509.10 L793.90,515.60 L790.20,522.10 L786.50,515.60 Z" fill="#800080" stroke="#111" stroke-width="0.7" stroke-linejoin="miter"/>
<path d="M834.90,450.10 L838.60,456.60 L834.90,463.10 L831.20,456.60 Z" fill="#800080" stroke="#111" stroke-width="0.7" stroke-linejoin="miter"/>
<path d="M868.00,454.20 L871.70,460.70 L868.00,467.20 L864.30,460.70 Z" fill="#800080" stroke="#111" stroke-width="0.7" stroke-linejoin="miter"/>
<path d="M904.70,458.60 L908.40,465.10 L904.70,471.60 L901.00,465.10 Z" fill="#800080" stroke="#111" stroke-width="0.7" stroke-linejoin="miter"/>
<path d="M937.80,470.70 L941.50,477.20 L937.80,483.70 L934.10,477.20 Z" fill="#800080" stroke="#111" stroke-width="0.7" stroke-linejoin="miter"/>
<path d="M952.90,473.10 L956.60,479.60 L952.90,486.10 L949.20,479.60 Z" fill="#800080" stroke="#111" stroke-width="0.7" stroke-linejoin="miter"/>
<path d="M767.50,582.00 V613.80 M765.30,582.00 H769.70 M765.30,613.80 H769.70" stroke="#707070" stroke-width="1" fill="none"/>
<path d="M784.70,557.20 V589.80 M782.50,557.20 H786.90 M782.50,589.80 H786.90" stroke="#707070" stroke-width="1" fill="none"/>
<path d="M802.00,556.20 V580.40 M799.80,556.20 H804.20 M799.80,580.40 H804.20" stroke="#707070" stroke-width="1" fill="none"/>
<path d="M819.10,522.40 V547.30 M816.90,522.40 H821.30 M816.90,547.30 H821.30" stroke="#707070" stroke-width="1" fill="none"/>
<path d="M857.40,523.40 V556.20 M855.20,523.40 H859.60 M855.20,556.20 H859.60" stroke="#707070" stroke-width="1" fill="none"/>
<path d="M874.80,520.70 V544.40 M872.60,520.70 H877.00 M872.60,544.40 H877.00" stroke="#707070" stroke-width="1" fill="none"/>
<path d="M892.20,506.40 V530.20 M890.00,506.40 H894.40 M890.00,530.20 H894.40" stroke="#707070" stroke-width="1" fill="none"/>
<path d="M913.60,508.40 V527.80 M911.40,508.40 H915.80 M911.40,527.80 H915.80" stroke="#707070" stroke-width="1" fill="none"/>
<path d="M930.90,508.40 V522.30 M928.70,508.40 H933.10 M928.70,522.30 H933.10" stroke="#707070" stroke-width="1" fill="none"/>
<path d="M948.00,503.40 V521.30 M945.80,503.40 H950.20 M945.80,521.30 H950.20" stroke="#707070" stroke-width="1" fill="none"/>
<path d="M965.20,499.40 V517.30 M963.00,499.40 H967.40 M963.00,517.30 H967.40" stroke="#707070" stroke-width="1" fill="none"/>
<path d="M767.50,591.20 L771.20,597.70 L767.50,604.20 L763.80,597.70 Z" fill="#ff8000" stroke="#111" stroke-width="0.7" stroke-linejoin="miter"/>
<path d="M784.70,567.00 L788.40,573.50 L784.70,580.00 L781.00,573.50 Z" fill="#ff8000" stroke="#111" stroke-width="0.7" stroke-linejoin="miter"/>
<path d="M802.00,561.60 L805.70,568.10 L802.00,574.60 L798.30,568.10 Z" fill="#ff8000" stroke="#111" stroke-width="0.7" stroke-linejoin="miter"/>
<path d="M819.10,528.80 L822.80,535.30 L819.10,541.80 L815.40,535.30 Z" fill="#ff8000" stroke="#111" stroke-width="0.7" stroke-linejoin="miter"/>
<path d="M857.40,533.20 L861.10,539.70 L857.40,546.20 L853.70,539.70 Z" fill="#ff8000" stroke="#111" stroke-width="0.7" stroke-linejoin="miter"/>
<path d="M874.80,526.10 L878.50,532.60 L874.80,539.10 L871.10,532.60 Z" fill="#ff8000" stroke="#111" stroke-width="0.7" stroke-linejoin="miter"/>
<path d="M892.20,511.80 L895.90,518.30 L892.20,524.80 L888.50,518.30 Z" fill="#ff8000" stroke="#111" stroke-width="0.7" stroke-linejoin="miter"/>
<path d="M913.60,511.80 L917.30,518.30 L913.60,524.80 L909.90,518.30 Z" fill="#ff8000" stroke="#111" stroke-width="0.7" stroke-linejoin="miter"/>
<path d="M930.90,508.80 L934.60,515.30 L930.90,521.80 L927.20,515.30 Z" fill="#ff8000" stroke="#111" stroke-width="0.7" stroke-linejoin="miter"/>
<path d="M948.00,505.80 L951.70,512.30 L948.00,518.80 L944.30,512.30 Z" fill="#ff8000" stroke="#111" stroke-width="0.7" stroke-linejoin="miter"/>
<path d="M965.20,501.90 L968.90,508.40 L965.20,514.90 L961.50,508.40 Z" fill="#ff8000" stroke="#111" stroke-width="0.7" stroke-linejoin="miter"/>
<rect x="584.80" y="385.00" width="417.50" height="265.40" fill="none" stroke="#555555" stroke-width="1.2"/>
</svg>
</body></html>
